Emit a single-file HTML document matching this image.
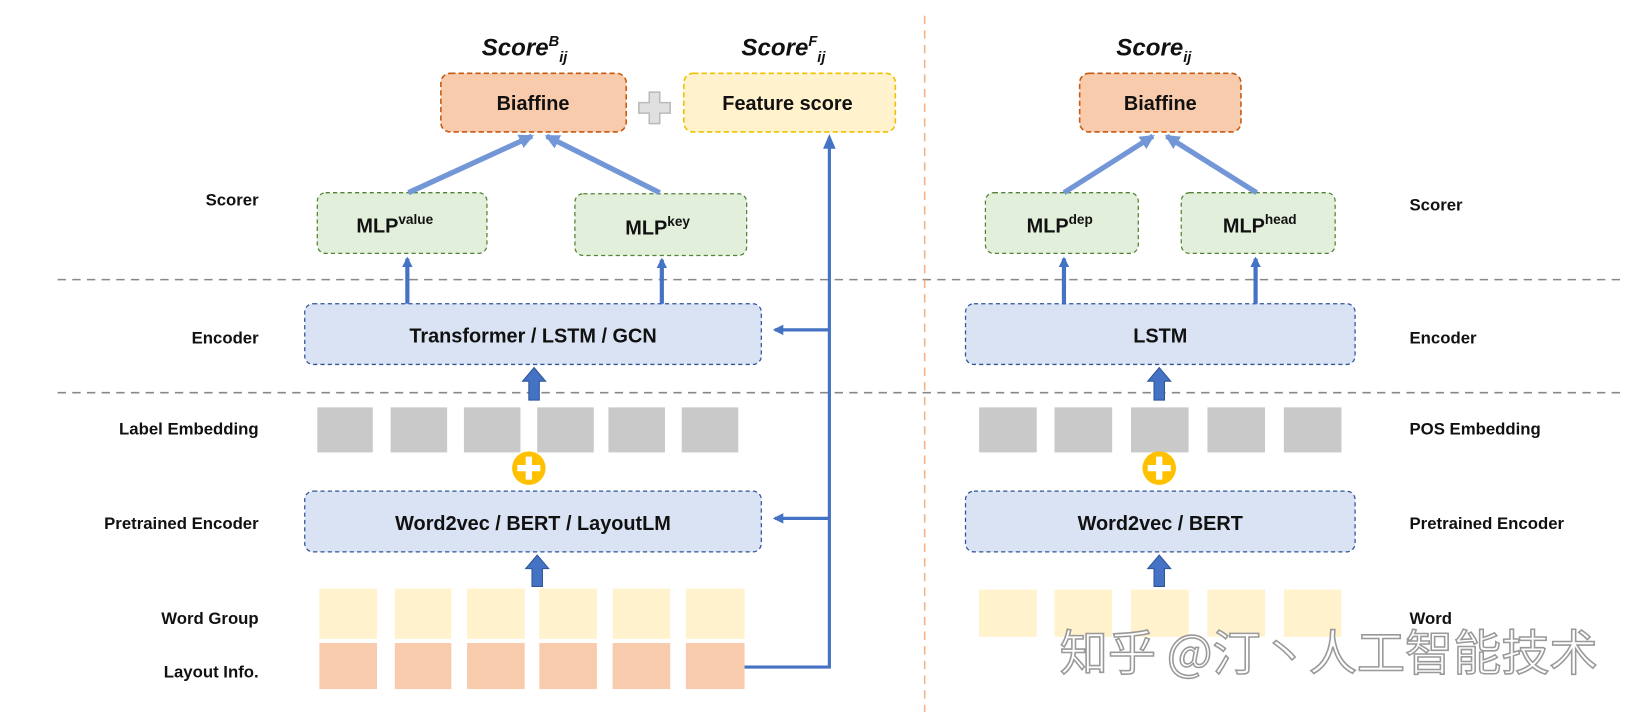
<!DOCTYPE html>
<html><head><meta charset="utf-8"><style>
html,body{margin:0;padding:0;background:#fff;}
svg{display:block;font-family:"Liberation Sans","Noto Sans CJK SC",sans-serif;}
.l{font-size:16px;font-weight:bold;fill:#111;}
.b{font-size:19px;font-weight:bold;fill:#111;}
.s{font-size:23px;font-weight:bold;font-style:italic;fill:#111;}
</style></head><body>
<svg width="1642" height="714" viewBox="0 0 1568 681.8" preserveAspectRatio="none">
<defs>
<marker id="ah" markerWidth="10" markerHeight="10" refX="8" refY="5" orient="auto" markerUnits="userSpaceOnUse"><path d="M0,0 L10,5 L0,10 z" fill="#4472c4"/></marker>
<marker id="ah2" markerWidth="16" markerHeight="16" refX="12" refY="8" orient="auto" markerUnits="userSpaceOnUse"><path d="M0,1 L14,8 L0,15 z" fill="#7397d6"/></marker>
</defs>
<line x1="55" y1="267" x2="1550" y2="267" stroke="#888" stroke-width="1.5" stroke-dasharray="8,6"/>
<line x1="55" y1="375" x2="1550" y2="375" stroke="#888" stroke-width="1.5" stroke-dasharray="8,6"/>
<line x1="883" y1="15" x2="883" y2="680" stroke="#f4b183" stroke-width="1.5" stroke-dasharray="8,6"/>

<text class="s" x="460" y="53">Score<tspan font-size="14" dy="-9">B</tspan><tspan font-size="14" dy="15">ij</tspan></text>
<text class="s" x="708" y="53">Score<tspan font-size="14" dy="-9">F</tspan><tspan font-size="14" dy="15">ij</tspan></text>
<rect x="421" y="70" width="177" height="56" rx="9" fill="#f8cbad" stroke="#c55a11" stroke-width="1.5" stroke-dasharray="5,3"/>
<text class="b" x="509" y="105" text-anchor="middle">Biaffine</text>
<path d="M620,88 h10 v10 h10 v10 h-10 v10 h-10 v-10 h-10 v-10 h10z" fill="#e0e0e0" stroke="#bbb" stroke-width="1.5"/>
<rect x="653" y="70" width="202" height="56" rx="9" fill="#fff2cc" stroke="#f0c000" stroke-width="1.5" stroke-dasharray="5,3"/>
<text class="b" x="752" y="105" text-anchor="middle">Feature score</text>

<rect x="303" y="184" width="162" height="58" rx="8" fill="#e2efda" stroke="#548235" stroke-width="1.2" stroke-dasharray="4,3"/>
<text class="b" x="377" y="222" text-anchor="middle">MLP<tspan font-size="13" dy="-8">value</tspan></text>
<rect x="549" y="185" width="164" height="59" rx="8" fill="#e2efda" stroke="#548235" stroke-width="1.2" stroke-dasharray="4,3"/>
<text class="b" x="628" y="224" text-anchor="middle">MLP<tspan font-size="13" dy="-8">key</tspan></text>
<line x1="390" y1="184" x2="508" y2="130" stroke="#7397d6" stroke-width="5" marker-end="url(#ah2)"/>
<line x1="630" y1="184" x2="522" y2="130" stroke="#7397d6" stroke-width="5" marker-end="url(#ah2)"/>

<rect x="291" y="290" width="436" height="58" rx="8" fill="#dae3f3" stroke="#2f5597" stroke-width="1.2" stroke-dasharray="4,3"/>
<text class="b" x="509" y="327" text-anchor="middle">Transformer / LSTM / GCN</text>
<line x1="389" y1="290" x2="389" y2="247" stroke="#4472c4" stroke-width="4" marker-end="url(#ah)"/>
<line x1="632" y1="290" x2="632" y2="248" stroke="#4472c4" stroke-width="4" marker-end="url(#ah)"/>
<path d="M505,382 v-18 h-6 l11,-13 l11,13 h-6 v18z" fill="#4472c4" stroke="#2f5597"/>

<g fill="#c9c9c9">
<rect x="303" y="389" width="53" height="43"/><rect x="373" y="389" width="54" height="43"/><rect x="443" y="389" width="54" height="43"/><rect x="513" y="389" width="54" height="43"/><rect x="581" y="389" width="54" height="43"/><rect x="651" y="389" width="54" height="43"/>
</g>
<circle cx="505" cy="447" r="16" fill="#ffc000"/>
<path d="M502,436 h6 v8 h8 v6 h-8 v8 h-6 v-8 h-8 v-6 h8z" fill="#fff"/>

<rect x="291" y="469" width="436" height="58" rx="8" fill="#dae3f3" stroke="#2f5597" stroke-width="1.2" stroke-dasharray="4,3"/>
<text class="b" x="509" y="506" text-anchor="middle">Word2vec / BERT / LayoutLM</text>
<path d="M508,560 v-17 h-6 l11,-13 l11,13 h-6 v17z" fill="#4472c4" stroke="#2f5597"/>

<g fill="#fff2cc">
<rect x="305" y="562" width="55" height="48"/><rect x="377" y="562" width="54" height="48"/><rect x="446" y="562" width="55" height="48"/><rect x="515" y="562" width="55" height="48"/><rect x="585" y="562" width="55" height="48"/><rect x="655" y="562" width="56" height="48"/>
</g>
<g fill="#f8cbad">
<rect x="305" y="614" width="55" height="44"/><rect x="377" y="614" width="54" height="44"/><rect x="446" y="614" width="55" height="44"/><rect x="515" y="614" width="55" height="44"/><rect x="585" y="614" width="55" height="44"/><rect x="655" y="614" width="56" height="44"/>
</g>
<polyline points="711,637 792,637 792,140" fill="none" stroke="#4472c4" stroke-width="3"/>
<path d="M786,142 L792,128 L798,142z" fill="#4472c4"/>
<line x1="792" y1="315" x2="740" y2="315" stroke="#4472c4" stroke-width="3" marker-end="url(#ah)"/>
<line x1="792" y1="495" x2="740" y2="495" stroke="#4472c4" stroke-width="3" marker-end="url(#ah)"/>

<g class="l" text-anchor="end">
<text x="247" y="196">Scorer</text>
<text x="247" y="328">Encoder</text>
<text x="247" y="415">Label Embedding</text>
<text x="247" y="505">Pretrained Encoder</text>
<text x="247" y="596">Word Group</text>
<text x="247" y="647">Layout Info.</text>
</g>

<text class="s" x="1066" y="53">Score<tspan font-size="14" dy="6">ij</tspan></text>
<rect x="1031" y="70" width="154" height="56" rx="9" fill="#f8cbad" stroke="#c55a11" stroke-width="1.5" stroke-dasharray="5,3"/>
<text class="b" x="1108" y="105" text-anchor="middle">Biaffine</text>
<rect x="941" y="184" width="146" height="58" rx="8" fill="#e2efda" stroke="#548235" stroke-width="1.2" stroke-dasharray="4,3"/>
<text class="b" x="1012" y="222" text-anchor="middle">MLP<tspan font-size="13" dy="-8">dep</tspan></text>
<rect x="1128" y="184" width="147" height="58" rx="8" fill="#e2efda" stroke="#548235" stroke-width="1.2" stroke-dasharray="4,3"/>
<text class="b" x="1203" y="222" text-anchor="middle">MLP<tspan font-size="13" dy="-8">head</tspan></text>
<line x1="1016" y1="184" x2="1101" y2="130" stroke="#7397d6" stroke-width="5" marker-end="url(#ah2)"/>
<line x1="1200" y1="184" x2="1114" y2="130" stroke="#7397d6" stroke-width="5" marker-end="url(#ah2)"/>
<rect x="922" y="290" width="372" height="58" rx="8" fill="#dae3f3" stroke="#2f5597" stroke-width="1.2" stroke-dasharray="4,3"/>
<text class="b" x="1108" y="327" text-anchor="middle">LSTM</text>
<line x1="1016" y1="290" x2="1016" y2="247" stroke="#4472c4" stroke-width="4" marker-end="url(#ah)"/>
<line x1="1199" y1="290" x2="1199" y2="247" stroke="#4472c4" stroke-width="4" marker-end="url(#ah)"/>
<path d="M1102,382 v-18 h-6 l11,-13 l11,13 h-6 v18z" fill="#4472c4" stroke="#2f5597"/>
<g fill="#c9c9c9">
<rect x="935" y="389" width="55" height="43"/><rect x="1007" y="389" width="55" height="43"/><rect x="1080" y="389" width="55" height="43"/><rect x="1153" y="389" width="55" height="43"/><rect x="1226" y="389" width="55" height="43"/>
</g>
<circle cx="1107" cy="447" r="16" fill="#ffc000"/>
<path d="M1104,436 h6 v8 h8 v6 h-8 v8 h-6 v-8 h-8 v-6 h8z" fill="#fff"/>
<rect x="922" y="469" width="372" height="58" rx="8" fill="#dae3f3" stroke="#2f5597" stroke-width="1.2" stroke-dasharray="4,3"/>
<text class="b" x="1108" y="506" text-anchor="middle">Word2vec / BERT</text>
<path d="M1102,560 v-17 h-6 l11,-13 l11,13 h-6 v17z" fill="#4472c4" stroke="#2f5597"/>
<g fill="#fff2cc">
<rect x="935" y="563" width="55" height="45"/><rect x="1007" y="563" width="55" height="45"/><rect x="1080" y="563" width="55" height="45"/><rect x="1153" y="563" width="55" height="45"/><rect x="1226" y="563" width="55" height="45"/>
</g>
<g class="l">
<text x="1346" y="201">Scorer</text>
<text x="1346" y="328">Encoder</text>
<text x="1346" y="415">POS Embedding</text>
<text x="1346" y="505">Pretrained Encoder</text>
<text x="1346" y="596">Word</text>
</g>
<text x="1012" y="640" font-size="46" fill="#fff" stroke="#999" stroke-width="1.5" font-family="'Noto Sans CJK SC',sans-serif">知乎 @汀丶人工智能技术</text>
</svg>
</body></html>
